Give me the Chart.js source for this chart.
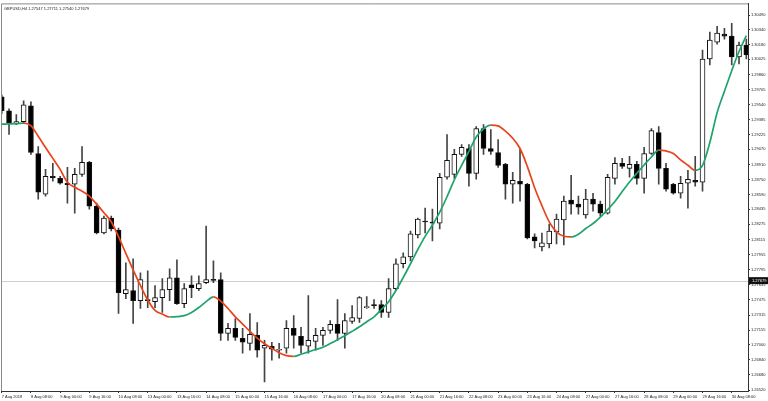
<!DOCTYPE html>
<html><head><meta charset="utf-8">
<script src="https://cdn.jsdelivr.net/npm/chart.js@4.4.1/dist/chart.umd.min.js"></script>
<style>html,body{margin:0;padding:0;background:#fff;overflow:hidden}#wrap{width:768px;height:401px;position:relative}</style>
</head><body><div id="wrap"><canvas id="c"></canvas></div>
<script>
const symbolTitle = 'GBPUSD,H4 1.27547 1.27711 1.27540 1.27679';
const currentPrice = 1.27679;

const xTickLabels = ['7 Aug 2018','8 Aug 08:00','9 Aug 00:00','9 Aug 16:00','10 Aug 08:00','13 Aug 00:00','13 Aug 16:00','14 Aug 08:00','15 Aug 00:00','15 Aug 16:00','16 Aug 08:00','17 Aug 00:00','17 Aug 16:00','20 Aug 08:00','21 Aug 00:00','21 Aug 16:00','22 Aug 08:00','23 Aug 00:00','23 Aug 16:00','24 Aug 08:00','27 Aug 00:00','27 Aug 16:00','28 Aug 08:00','29 Aug 00:00','29 Aug 16:00','30 Aug 08:00'];
const xTickBars = [0,4,8,12,16,20,24,28,32,36,40,44,48,52,56,60,64,68,72,76,80,84,88,92,96,100];

const yTickValues = [1.30490,1.30340,1.30180,1.30025,1.29860,1.29705,1.29540,1.29385,1.29225,1.29070,1.28910,1.28750,1.28590,1.28435,1.28275,1.28115,1.27955,1.27795,1.27635,1.27475,1.27315,1.27155,1.27000,1.26840,1.26680,1.26520];

const opens = [1.29627,1.29479,1.29342,1.29363,1.29532,1.29026,1.28595,1.28784,1.28763,1.28711,
1.28700,1.28805,1.28932,1.28468,1.28184,1.28342,1.28216,1.27542,1.27573,1.27468,
1.27473,1.27457,1.27500,1.27584,1.27710,1.27436,1.27636,1.27594,1.27658,1.27689,
1.27689,1.27121,1.27173,1.27068,1.27015,1.27099,1.26963,1.26984,1.26942,1.26963,
1.27173,1.27089,1.26984,1.27036,1.27099,1.27152,1.27215,1.27121,1.27247,1.27278,
1.27394,1.27426,1.27426,1.27342,1.27594,1.27858,1.27931,1.28163,1.28310,1.28300,
1.28289,1.28774,1.28805,1.29016,1.29079,1.28816,1.29290,1.29079,1.29037,1.28911,
1.28700,1.28732,1.28700,1.28142,1.28037,1.28068,1.28195,1.28321,1.28532,1.28489,
1.28374,1.28542,1.28489,1.28395,1.28763,1.28921,1.28868,1.28911,1.28763,1.29026,
1.29248,1.28868,1.28700,1.28605,1.28711,1.28742,1.28721,1.30027,1.30206,1.30290,
1.30269,1.30048,1.30174];

const highs = [1.29648,1.29500,1.29437,1.29585,1.29574,1.29100,1.28858,1.28921,1.28784,1.28879,
1.28868,1.29100,1.28942,1.28500,1.28363,1.28363,1.28237,1.27868,1.27910,1.27763,
1.27784,1.27626,1.27700,1.27805,1.27900,1.27647,1.27731,1.27731,1.28258,1.27889,
1.27763,1.27226,1.27278,1.27173,1.27331,1.27236,1.27047,1.27026,1.27015,1.27257,
1.27310,1.27184,1.27521,1.27173,1.27184,1.27257,1.27479,1.27331,1.27415,1.27510,
1.27510,1.27479,1.27468,1.27700,1.27910,1.27973,1.28205,1.28342,1.28447,1.28437,
1.28816,1.29227,1.29069,1.29121,1.29121,1.29311,1.29332,1.29279,1.29174,1.28921,
1.28826,1.29069,1.28711,1.28174,1.28184,1.28279,1.28384,1.28574,1.28795,1.28574,
1.28647,1.28605,1.28521,1.28805,1.28984,1.28974,1.28995,1.28942,1.29090,1.29290,
1.29311,1.28921,1.28711,1.28784,1.28847,1.28995,1.30122,1.30311,1.30374,1.30353,
1.30406,1.30206,1.30237];

const lows = [1.29448,1.29227,1.29332,1.29342,1.29016,1.28542,1.28574,1.28732,1.28700,1.28500,
1.28395,1.28784,1.28437,1.28174,1.28174,1.28205,1.27331,1.27489,1.27226,1.27384,
1.27394,1.27394,1.27342,1.27468,1.27426,1.27394,1.27500,1.27573,1.27647,1.27658,
1.27047,1.27047,1.27047,1.26910,1.26942,1.26868,1.26605,1.26836,1.26857,1.26910,
1.26963,1.26910,1.26910,1.26942,1.26994,1.27121,1.27047,1.26963,1.27226,1.27236,
1.27384,1.27384,1.27289,1.27289,1.27573,1.27815,1.27889,1.28131,1.28184,1.28100,
1.28226,1.28753,1.28763,1.28995,1.28679,1.28753,1.29016,1.29016,1.28879,1.28542,
1.28500,1.28521,1.28121,1.28026,1.27995,1.28026,1.28068,1.28058,1.28384,1.28384,
1.28342,1.28416,1.28363,1.28384,1.28700,1.28868,1.28774,1.28700,1.28605,1.29016,
1.28700,1.28626,1.28595,1.28553,1.28447,1.28679,1.28626,1.29964,1.30185,1.30237,
1.29964,1.29974,1.30027];

const closes = [1.29479,1.29353,1.29363,1.29542,1.29037,1.28616,1.28784,1.28768,1.28711,1.28695,
1.28805,1.28932,1.28468,1.28184,1.28342,1.28226,1.27552,1.27584,1.27468,1.27689,
1.27468,1.27500,1.27584,1.27710,1.27436,1.27594,1.27605,1.27647,1.27689,1.27682,
1.27121,1.27173,1.27078,1.27026,1.27110,1.26942,1.26994,1.26952,1.26952,1.27173,
1.27099,1.26994,1.27047,1.27099,1.27152,1.27215,1.27121,1.27257,1.27289,1.27500,
1.27400,1.27415,1.27342,1.27594,1.27858,1.27931,1.28174,1.28331,1.28300,1.28289,
1.28774,1.28953,1.29016,1.29090,1.28816,1.29290,1.29079,1.29048,1.28900,1.28700,
1.28742,1.28700,1.28131,1.28100,1.28079,1.28205,1.28331,1.28521,1.28489,1.28458,
1.28542,1.28489,1.28395,1.28774,1.28921,1.28890,1.28911,1.28763,1.29026,1.29269,
1.28868,1.28647,1.28605,1.28711,1.28753,1.28721,1.30027,1.30227,1.30301,1.30269,
1.30048,1.30174,1.30069];

const maValues = [1.29337,1.29339,1.29342,1.29348,1.29321,1.29208,1.29090,1.28974,1.28858,1.28721,
1.28668,1.28626,1.28574,1.28489,1.28399,1.28303,1.28145,1.27968,1.27794,1.27628,
1.27474,1.27363,1.27325,1.27294,1.27297,1.27308,1.27342,1.27394,1.27457,1.27508,
1.27462,1.27384,1.27296,1.27219,1.27142,1.27071,1.27010,1.26963,1.26915,1.26884,
1.26876,1.26899,1.26925,1.26949,1.26973,1.27012,1.27053,1.27096,1.27142,1.27190,
1.27244,1.27295,1.27373,1.27455,1.27574,1.27712,1.27858,1.28009,1.28148,1.28268,
1.28405,1.28568,1.28747,1.28900,1.29048,1.29200,1.29288,1.29327,1.29319,1.29263,
1.29188,1.29079,1.28890,1.28663,1.28473,1.28302,1.28195,1.28149,1.28142,1.28171,
1.28231,1.28284,1.28353,1.28432,1.28517,1.28623,1.28724,1.28816,1.28904,1.28989,
1.29062,1.29053,1.29026,1.28958,1.28902,1.28847,1.28900,1.29142,1.29458,1.29684,
1.29903,1.30106,1.30274];

const Y_MIN = 1.26510, Y_MAX = 1.30616;
const X_MIN = -0.1, X_MAX = 102.23;
const GREEN = '#1fa36c', RED = '#e8441c';
const FONT = 'Liberation Sans';

const framePlugin = {
  id: 'frame',
  beforeDatasetsDraw(chart) {
    const {ctx, chartArea: a, scales: {y}} = chart;
    const py = Math.round(y.getPixelForValue(currentPrice)) + 0.5;
    ctx.save();
    ctx.strokeStyle = '#cfcfcf'; ctx.lineWidth = 1;
    ctx.beginPath(); ctx.moveTo(a.left, py); ctx.lineTo(a.right, py); ctx.stroke();
    ctx.restore();
  },
  afterDraw(chart) {
    const {ctx, chartArea: a, scales: {y}} = chart;
    ctx.save();
    ctx.strokeStyle = '#8a8a8a'; ctx.lineWidth = 1;
    ctx.beginPath();
    ctx.moveTo(a.left + 0.5, a.bottom); ctx.lineTo(a.left + 0.5, a.top + 0.5); ctx.lineTo(a.right, a.top + 0.5);
    ctx.stroke();
    const py = y.getPixelForValue(currentPrice);
    ctx.fillStyle = '#111';
    ctx.fillRect(a.right + 1, py - 3.5, 19, 7);
    ctx.fillStyle = '#fff';
    ctx.font = '4px "' + FONT + '"';
    ctx.textBaseline = 'middle';
    ctx.fillText(currentPrice.toFixed(5), a.right + 4, py);
    ctx.fillStyle = '#222';
    ctx.fillText(symbolTitle, a.left + 3, a.top + 5);
    ctx.restore();
  }
};

new Chart(document.getElementById('c'), {
  type: 'bar',
  data: {
    datasets: [
      { type: 'line', label: 'MA', data: maValues.map((v, i) => ({x: i, y: v})),
        borderWidth: 1.7, pointRadius: 0, cubicInterpolationMode: 'monotone', borderColor: GREEN,
        segment: { borderColor: c => (c.p1.parsed.y >= c.p0.parsed.y ? GREEN : RED) }, order: 1 },
      { type: 'bar', label: 'body', data: opens.map((o, i) => ({x: i, y: [o, closes[i]]})),
        backgroundColor: opens.map((o, i) => (closes[i] < o ? '#000' : '#fff')),
        borderColor: '#111', borderWidth: 1, borderSkipped: false, barThickness: 5,
        grouped: false, minBarLength: 1, order: 2 },
      { type: 'bar', label: 'wick', data: lows.map((l, i) => ({x: i, y: [l, highs[i]]})),
        backgroundColor: '#444', barThickness: 1, grouped: false, order: 3 }
    ]
  },
  options: {
    responsive: true, maintainAspectRatio: false, animation: false,
    layout: { padding: { left: 1, top: 1, right: 0, bottom: 0 } },
    plugins: { legend: { display: false }, tooltip: { enabled: false } },
    scales: {
      x: {
        type: 'linear', min: X_MIN, max: X_MAX, offset: false,
        afterBuildTicks: s => { s.ticks = xTickBars.map(v => ({value: v})); },
        afterFit: s => { s.height = 10; },
        grid: { offset: false, drawOnChartArea: false, drawTicks: true, tickLength: 2, color: '#333' },
        border: { display: true, color: '#333' },
        ticks: { autoSkip: false, maxRotation: 0, minRotation: 0, align: 'start', padding: 1, color: '#222',
          font: { size: 4, family: FONT }, callback: (v, i) => xTickLabels[i] }
      },
      y: {
        position: 'right', min: Y_MIN, max: Y_MAX,
        afterBuildTicks: s => { s.ticks = yTickValues.map(v => ({value: v})); },
        afterFit: s => { s.width = 20; },
        grid: { drawOnChartArea: false, drawTicks: true, tickLength: 2, color: '#333' },
        border: { display: true, color: '#333' },
        ticks: { autoSkip: false, padding: 1, color: '#222', font: { size: 4, family: FONT },
          callback: v => Number(v).toFixed(5) }
      }
    }
  },
  plugins: [framePlugin]
});
</script>
</body></html>
